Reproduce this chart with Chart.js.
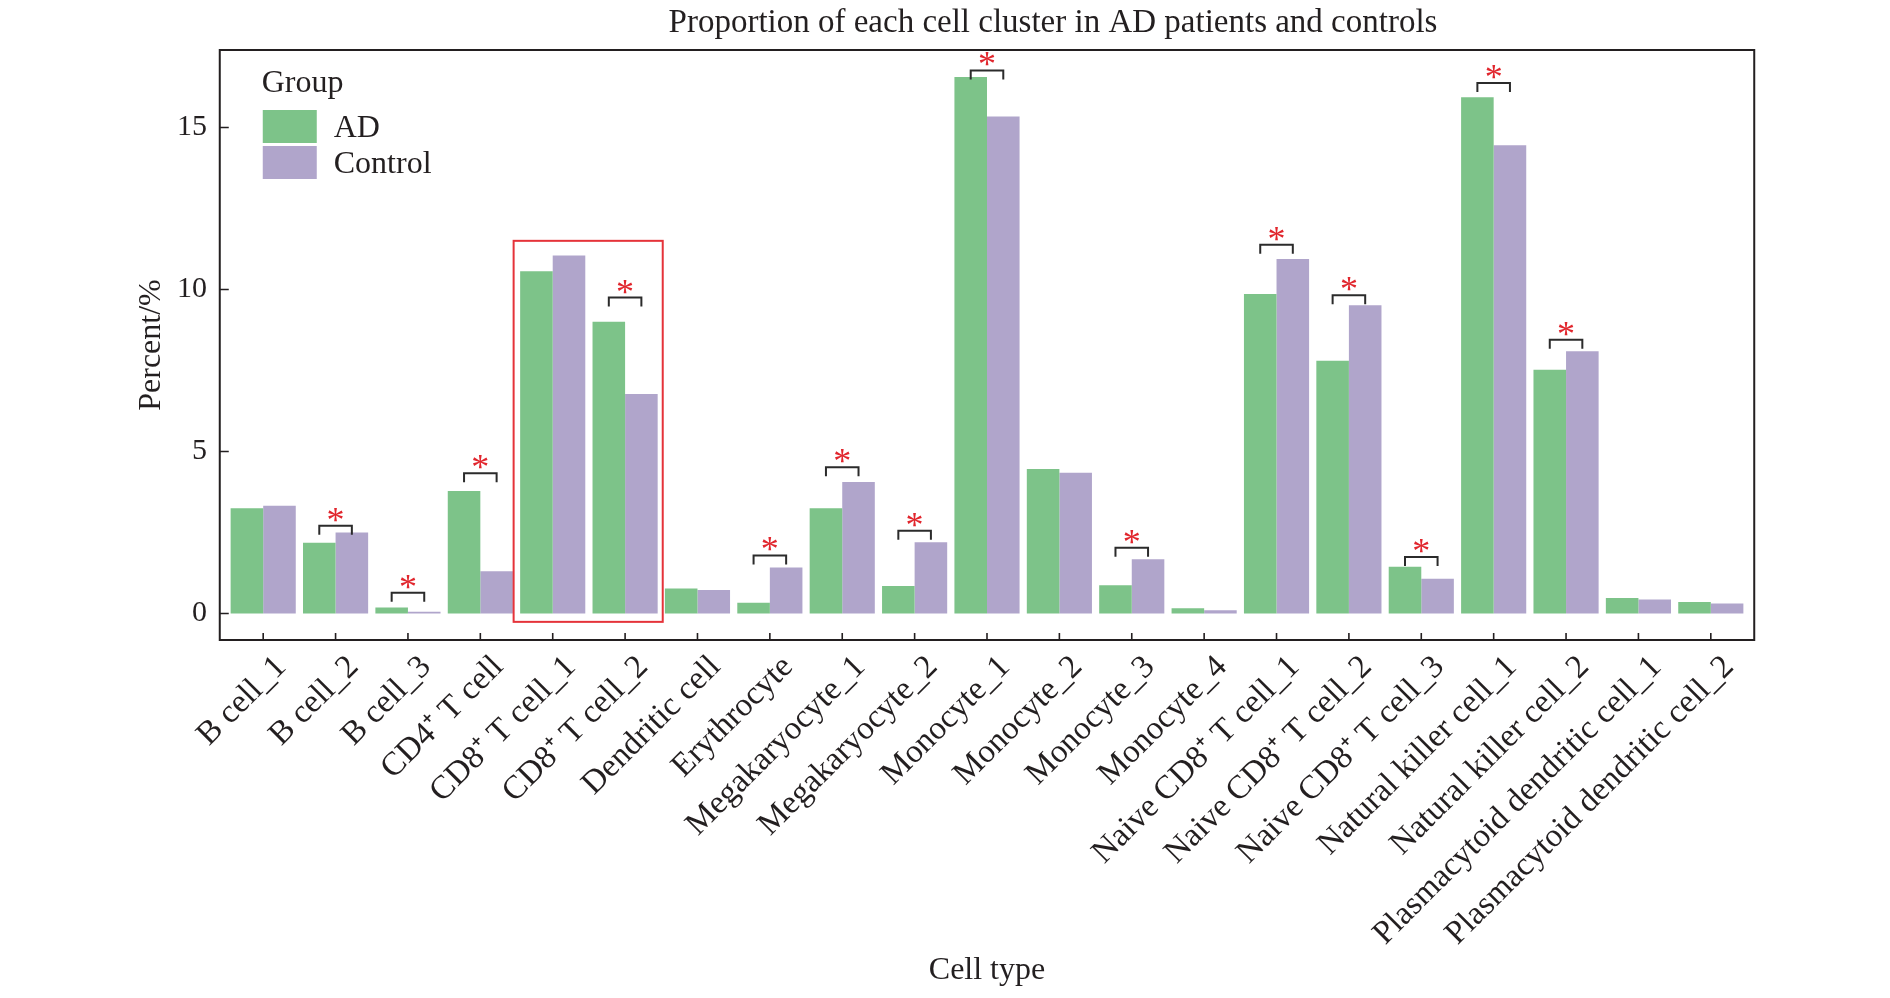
<!DOCTYPE html>
<html>
<head>
<meta charset="utf-8">
<script src="https://cdn.jsdelivr.net/npm/chart.js@4.4.0/dist/chart.umd.min.js"></script>
<style>
  html, body { margin: 0; padding: 0; background: #ffffff; }
  #wrap { width: 1890px; height: 998px; }
</style>
</head>
<body>
<div id="wrap"><canvas id="cellChart" width="1890" height="998"></canvas></div>
<script>
const cellTypes = [
  'B cell_1', 'B cell_2', 'B cell_3', 'CD4\u207A T cell', 'CD8\u207A T cell_1', 'CD8\u207A T cell_2',
  'Dendritic cell', 'Erythrocyte', 'Megakaryocyte_1', 'Megakaryocyte_2', 'Monocyte_1',
  'Monocyte_2', 'Monocyte_3', 'Monocyte_4', 'Naive CD8\u207A T cell_1', 'Naive CD8\u207A T cell_2',
  'Naive CD8\u207A T cell_3', 'Natural killer cell_1', 'Natural killer cell_2',
  'Plasmacytoid dendritic cell_1', 'Plasmacytoid dendritic cell_2'
];
const adValues = [3.25, 2.18, 0.18, 3.78, 10.56, 9.00, 0.77, 0.33, 3.25, 0.85, 16.56,
  4.46, 0.87, 0.16, 9.86, 7.80, 1.44, 15.93, 7.52, 0.48, 0.35];
const controlValues = [3.32, 2.50, 0.05, 1.30, 11.05, 6.77, 0.72, 1.42, 4.06, 2.20, 15.34,
  4.34, 1.67, 0.10, 10.94, 9.51, 1.07, 14.45, 8.09, 0.43, 0.31];
// height (in %) of the significance bracket, null = not significant
const sigLevels = [null, 2.71, 0.64, 4.33, null, 9.75, null, 1.79, 4.51, 2.55, 16.76,
  null, 2.03, null, 11.38, 9.82, 1.74, 16.37, 8.45, null, null];
const yTicks = [0, 5, 10, 15];
const highlighted = ['CD8\u207A T cell_1', 'CD8\u207A T cell_2'];

const serif = '"Liberation Serif", "Times New Roman", serif';
const ink = '#231f20';
const starRed = '#e1262d';

const annotations = {
  id: 'annotations',
  afterDatasetsDraw(chart) {
    const { ctx, chartArea, scales: { x, y } } = chart;
    const left = x.getPixelForValue(-0.6);
    const right = x.getPixelForValue(cellTypes.length - 0.4);
    ctx.save();

    // frame
    ctx.strokeStyle = ink;
    ctx.lineWidth = 2;
    ctx.strokeRect(left, chartArea.top, right - left, chartArea.bottom - chartArea.top);

    // inward tick marks
    ctx.lineWidth = 1.6;
    ctx.beginPath();
    yTicks.forEach(v => {
      const py = y.getPixelForValue(v);
      ctx.moveTo(left, py);
      ctx.lineTo(left + 9, py);
    });
    cellTypes.forEach((c, i) => {
      const px = x.getPixelForValue(i);
      ctx.moveTo(px, chartArea.bottom);
      ctx.lineTo(px, chartArea.bottom - 7);
    });
    ctx.stroke();

    // significance brackets
    const metaA = chart.getDatasetMeta(0);
    const metaB = chart.getDatasetMeta(1);
    ctx.font = '36px ' + serif;
    const m = ctx.measureText('*');
    const starMid = (m.actualBoundingBoxAscent - m.actualBoundingBoxDescent) / 2;
    sigLevels.forEach((lvl, i) => {
      if (lvl === null) return;
      const xa = metaA.data[i].x;
      const xb = metaB.data[i].x;
      const py = y.getPixelForValue(lvl);
      ctx.strokeStyle = '#2b2b2b';
      ctx.lineWidth = 2;
      ctx.beginPath();
      ctx.moveTo(xa, py + 9);
      ctx.lineTo(xa, py);
      ctx.lineTo(xb, py);
      ctx.lineTo(xb, py + 9);
      ctx.stroke();
      ctx.fillStyle = starRed;
      ctx.textAlign = 'center';
      ctx.textBaseline = 'alphabetic';
      ctx.fillText('*', (xa + xb) / 2, py - 11 + starMid);
    });

    // highlight box around the CD8+ T cell clusters
    const i0 = cellTypes.indexOf(highlighted[0]);
    const i1 = cellTypes.indexOf(highlighted[1]);
    ctx.strokeStyle = '#e5333a';
    ctx.lineWidth = 2;
    const bx0 = x.getPixelForValue(i0 - 0.54);
    const bx1 = x.getPixelForValue(i1 + 0.52);
    const by0 = y.getPixelForValue(11.5);
    const by1 = y.getPixelForValue(-0.26);
    ctx.strokeRect(bx0, by0, bx1 - bx0, by1 - by0);

    // legend
    ctx.fillStyle = ink;
    ctx.textAlign = 'left';
    ctx.textBaseline = 'alphabetic';
    ctx.font = '32px ' + serif;
    ctx.fillText('Group', left + 42, 92);
    chart.data.datasets.forEach((ds, k) => {
      const top = 110 + k * 36;
      ctx.fillStyle = ds.backgroundColor;
      ctx.fillRect(left + 43, top, 54, 33);
      ctx.fillStyle = ink;
      ctx.fillText(ds.label, left + 114, top + 27);
    });

    // title
    ctx.font = '33px ' + serif;
    ctx.textAlign = 'center';
    ctx.fillText('Proportion of each cell cluster in AD patients and controls', 1053, 32);
    ctx.restore();
  }
};

const ctx = document.getElementById('cellChart').getContext('2d');
const cellChart = new Chart(ctx, {
  type: 'bar',
  data: {
    labels: cellTypes,
    datasets: [
      { label: 'AD', data: adValues, backgroundColor: '#7dc389' },
      { label: 'Control', data: controlValues, backgroundColor: '#b0a5cb' }
    ]
  },
  options: {
    responsive: false,
    animation: false,
    devicePixelRatio: 1,
    layout: { padding: { left: 0, right: 143, top: 50, bottom: 0 } },
    datasets: { bar: { categoryPercentage: 0.9, barPercentage: 1.0 } },
    plugins: {
      legend: { display: false },
      tooltip: { enabled: false }
    },
    scales: {
      x: {
        offset: true,
        grid: { display: false, drawTicks: false },
        border: { display: false },
        ticks: {
          autoSkip: false,
          maxRotation: 45,
          minRotation: 45,
          padding: 8,
          labelOffset: 18,
          color: ink,
          font: { family: serif, size: 33 }
        },
        title: {
          display: true,
          text: 'Cell type',
          color: ink,
          font: { family: serif, size: 32 },
          padding: { top: 0, bottom: 8 }
        },
        afterFit: s => { s.height = 358; }
      },
      y: {
        min: -0.82,
        max: 17.39,
        afterBuildTicks: s => { s.ticks = yTicks.map(v => ({ value: v })); },
        grid: { display: false, drawTicks: false },
        border: { display: false },
        ticks: {
          padding: 20,
          color: ink,
          font: { family: serif, size: 30 }
        },
        title: {
          display: true,
          text: 'Percent/%',
          color: ink,
          font: { family: serif, size: 32 },
          padding: { top: 132, bottom: 0 }
        },
        afterFit: s => { s.width = 227; }
      }
    }
  },
  plugins: [annotations]
});
</script>
</body>
</html>
